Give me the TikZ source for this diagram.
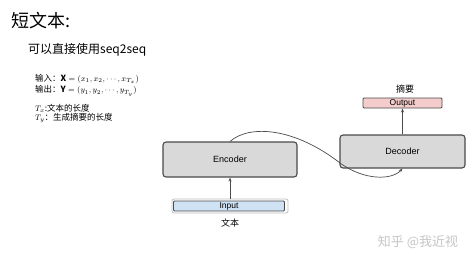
\documentclass[tikz,border=0pt]{standalone}
\usepackage{fontspec}
\setmainfont{Noto Sans CJK SC}
\setsansfont{Liberation Sans}
\usetikzlibrary{arrows.meta}
\definecolor{boxgray}{HTML}{D9D9D9}
\definecolor{boxline}{HTML}{4A4A4A}
\definecolor{inblue}{HTML}{CFE2F3}
\definecolor{outpink}{HTML}{F4CCCC}
\tikzset{
  block/.style={draw=boxline, line width=1.1pt, fill=boxgray, rounded corners=3pt, inner sep=0pt, font=\sffamily\fontsize{9}{10}\selectfont},
  strip/.style={draw=boxline, line width=0.9pt, rounded corners=1pt, inner sep=0pt, font=\sffamily\fontsize{8.5}{9}\selectfont},
  outer/.style={draw=gray!50, line width=0.8pt, fill=white, rounded corners=2pt, inner sep=0pt},
  lbl/.style={inner sep=0pt, font=\fontsize{9}{10}\selectfont},
  txt/.style={inner sep=0pt, anchor=west, font=\fontsize{8.5}{10}\selectfont},
  conn/.style={draw=boxline, line width=0.7pt, -{Stealth[length=4pt,width=3pt]}}
}
\begin{document}
\begin{tikzpicture}[x=1pt,y=-1pt]
\useasboundingbox[fill=white] (0,0) rectangle (474,263);
\node[inner sep=0pt, anchor=west, font=\fontsize{18}{20}\selectfont] (title) at (11,21) {短文本:};
\node[inner sep=0pt, anchor=west, font=\fontsize{12}{14}\selectfont] (sub) at (28,50) {可以直接使用seq2seq};
\node[txt] (l1) at (35,79) {输入：$\textbf{X}=(x_1,x_2,\cdots,x_{T_x})$};
\node[txt] (l2) at (35,91) {输出：$\textbf{Y}=(y_1,y_2,\cdots,y_{T_y})$};
\node[txt] (l3) at (35,108) {$T_x$:文本的长度};
\node[txt] (l4) at (35,118) {$T_y$：生成摘要的长度};

\node[block, minimum width=134pt, minimum height=35pt] (enc) at (230,159.5) {Encoder};
\node[block, minimum width=125pt, minimum height=33pt] (dec) at (402.5,151.5) {Decoder};
\node[strip, fill=outpink, minimum width=79pt, minimum height=10pt] (out) at (402.5,103) {Output};
\node[outer, minimum width=116pt, minimum height=14pt] (inbox) at (230,206) {};
\node[strip, fill=inblue, minimum width=111pt, minimum height=10pt] (in) at (229,206) {Input};
\node[lbl] (wen) at (230,223) {文本};
\node[lbl] (zhai) at (405,89) {摘要};

\draw[conn] (inbox.north) -- (enc.south);
\draw[conn] (dec.north) -- (out.south);
\draw[conn] (enc.north) .. controls (250,124) and (295,128) .. (340,163) .. controls (365,181) and (392,180) .. (dec.south);

\node[inner sep=0pt, text=gray!45, font=\fontsize{13}{14}\selectfont] (wm) at (418,242) {知乎 @我近视};
\end{tikzpicture}
\end{document}
